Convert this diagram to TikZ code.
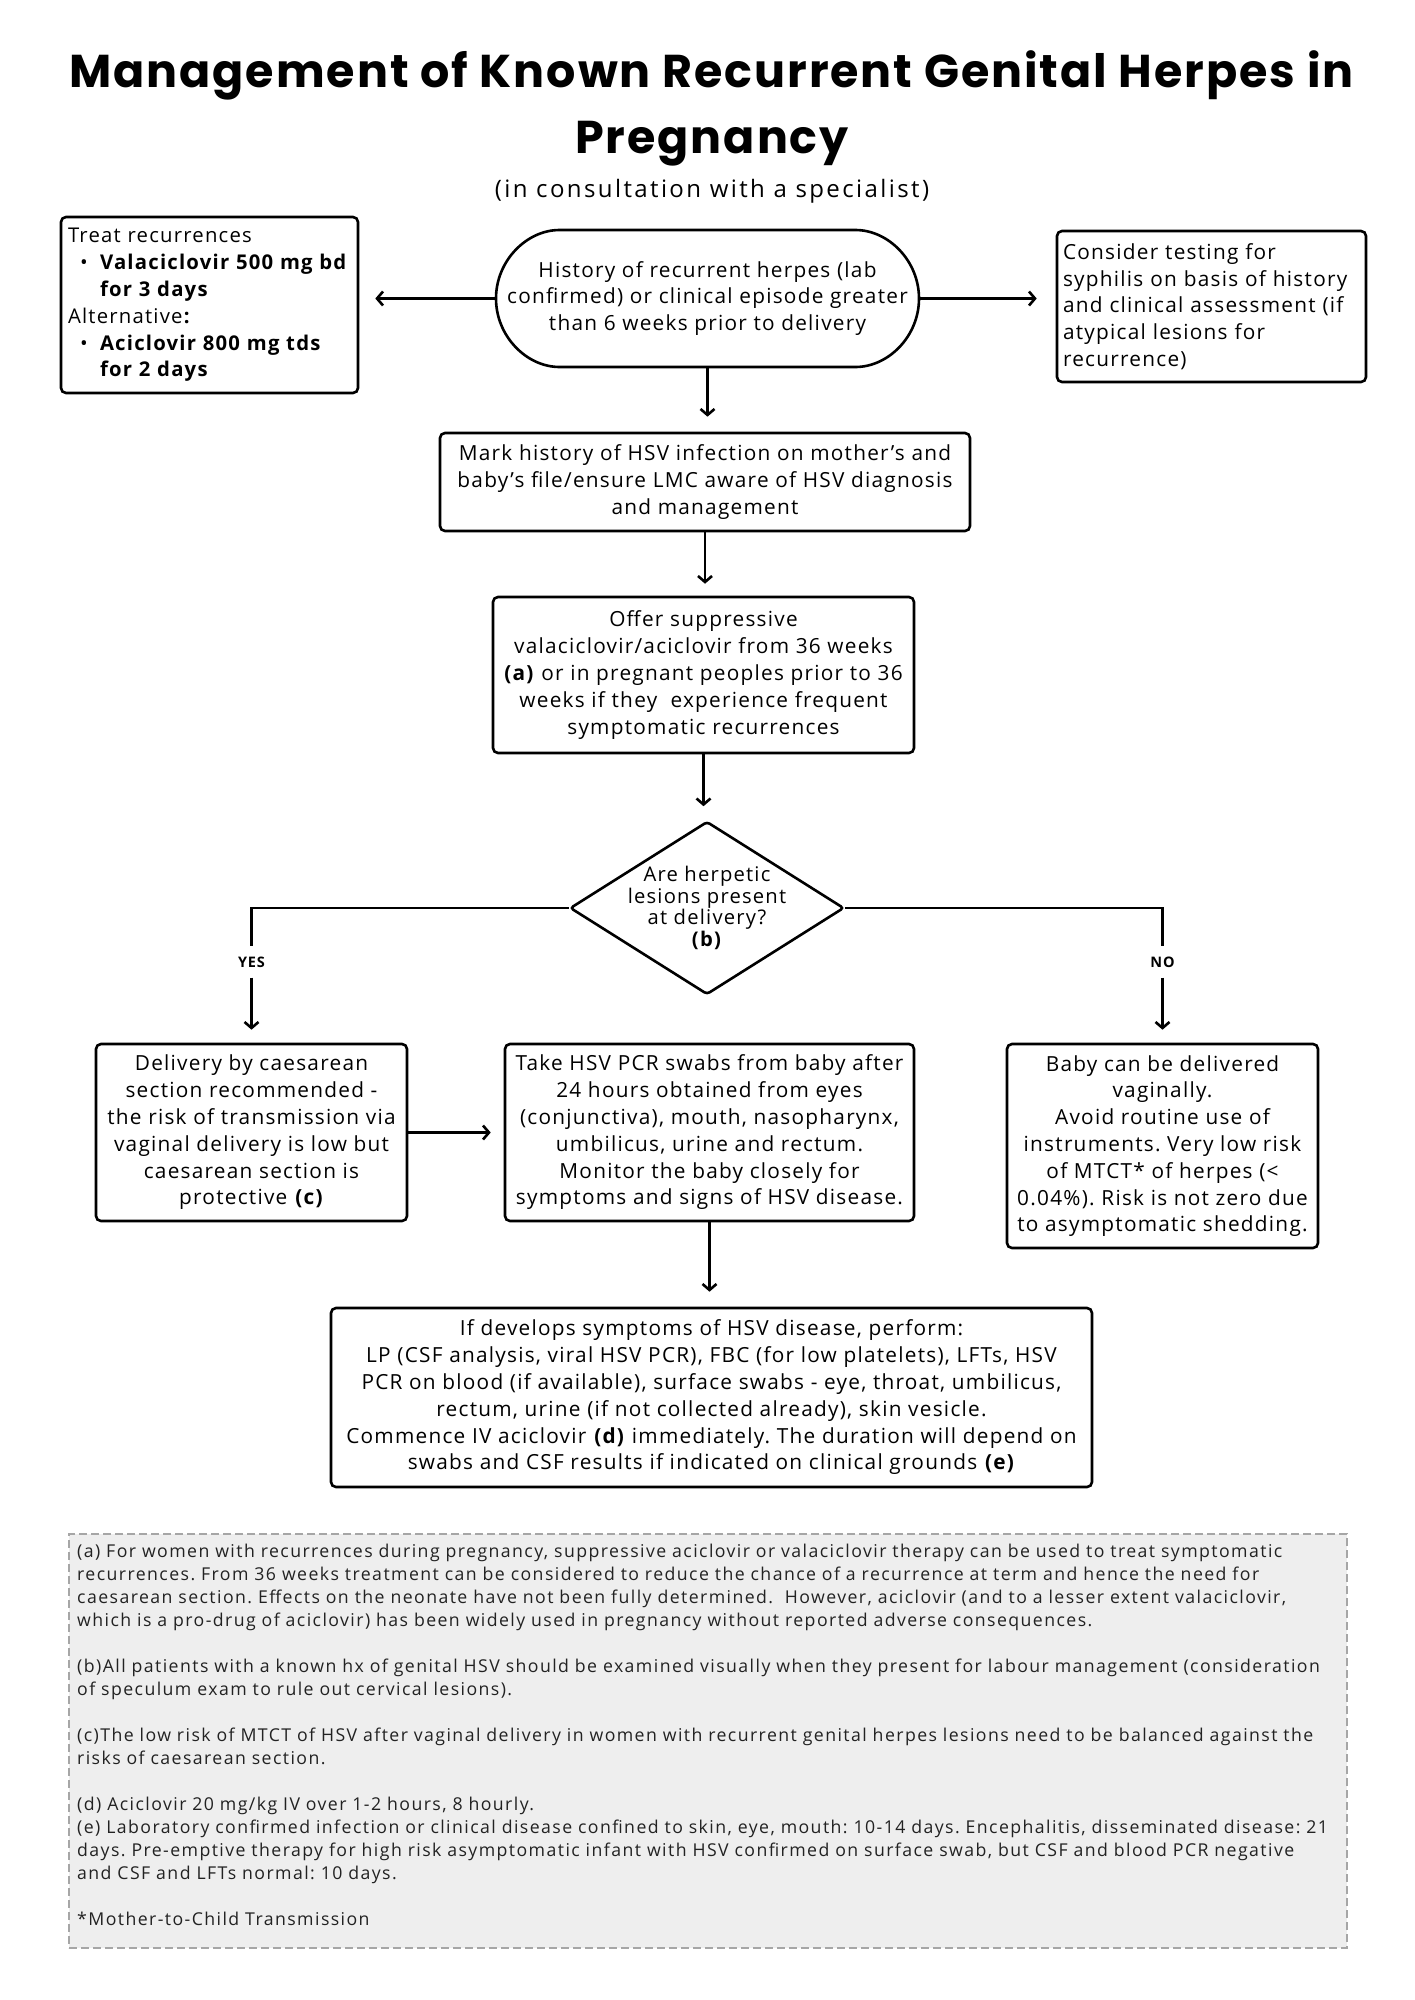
\documentclass[tikz,border=0pt]{standalone}
\usepackage{fontspec}
\setmainfont{Open Sans}[LetterSpace=6]
\newfontfamily\subfont{Open Sans}[LetterSpace=10]
\newfontfamily\notefamily{Open Sans}[LetterSpace=8]
\newfontfamily\titlefont{Poppins}[LetterSpace=4.2]
\usetikzlibrary{arrows.meta,shapes.geometric,shapes.misc}
\newcommand\bodyfont{\fontsize{20.8}{26.8}\selectfont}
\newcommand\treatfont{\fontsize{20.3}{26.8}\selectfont}
\newcommand\notefont{\notefamily\fontsize{17.7}{23}\selectfont}
\newcommand\diafont{\fontsize{20.2}{21.5}\selectfont}
\definecolor{notefill}{HTML}{EEEEEE}
\definecolor{notedraw}{HTML}{A6A6A6}
\definecolor{notetext}{HTML}{222222}
\frenchspacing
\begin{document}
\begin{tikzpicture}[x=1pt,y=-1pt,
  box/.style={draw=black,line width=2.6pt,rounded corners=5pt,inner sep=0pt,align=center,font=\bodyfont},
  arr/.style={line width=2.6pt,-{Straight Barb[length=6pt,width=14pt,line width=2.6pt]}},
  conn/.style={line width=2.6pt},
  lbl/.style={font=\bfseries\fontsize{14.5}{16}\selectfont,inner sep=0pt}
]
\fill[white] (0,0) rectangle (1414,2000);
\useasboundingbox (0,0) rectangle (1414,2000);

\node[font=\titlefont\bfseries\fontsize{46}{50}\selectfont,anchor=base,inner sep=0pt] (title1) at (711.5,87) {Management of Known Recurrent Genital Herpes in};
\node[font=\titlefont\bfseries\fontsize{46}{50}\selectfont,anchor=base,inner sep=0pt] (title2) at (712,153) {Pregnancy};
\node[font=\subfont\fontsize{24}{26}\selectfont,anchor=base,inner sep=0pt] (sub) at (712,197) {(in consultation with a specialist)};

\node[box,font=\treatfont,minimum width=297pt,minimum height=176pt,text width=283pt,align=left,inner xsep=7pt] (treat) at (209.5,305) {\mbox{Treat recurrences}\\
\mbox{\hspace*{12pt}\makebox[20pt][l]{•}\textbf{Valaciclovir 500 mg bd}}\\
\mbox{\hspace*{32pt}\textbf{for 3 days}}\\
\mbox{Alternative\textbf{:}}\\
\mbox{\hspace*{12pt}\makebox[20pt][l]{•}\textbf{Aciclovir 800 mg tds}}\\
\mbox{\hspace*{32pt}\textbf{for 2 days}}};

\node[box,rounded rectangle,minimum width=423pt,minimum height=137pt] (oval) at (707.5,298.5) {History of recurrent herpes (lab\\confirmed) or clinical episode greater\\than 6 weeks prior to delivery};

\node[box,minimum width=309pt,minimum height=151pt,text width=297pt,align=left,inner xsep=6pt] (cons) at (1211.5,306.5) {Consider testing for\\syphilis on basis of history\\and clinical assessment (if\\atypical lesions for\\recurrence)};

\node[box,minimum width=530pt,minimum height=98pt] (mark) at (705,482) {Mark history of HSV infection on mother’s and\\baby’s file/ensure LMC aware of HSV diagnosis\\and management};

\node[box,minimum width=421pt,minimum height=156pt] (offer) at (703.5,675) {Offer suppressive\\valaciclovir/aciclovir from 36 weeks\\\textbf{(a)} or in pregnant peoples prior to 36\\weeks if they\ \ experience frequent\\symptomatic recurrences};

\node[draw=black,line width=2.6pt,diamond,rounded corners=3pt,aspect=1.584,inner sep=-14pt,minimum width=274pt,minimum height=173pt,align=center,font=\diafont] (dia) at (707,908) {Are herpetic\\lesions present\\at delivery?\\\textbf{(b)}};

\node[lbl] (yes) at (251.5,962) {YES};
\node[lbl] (no) at (1162.5,962) {NO};

\node[box,minimum width=311pt,minimum height=177pt] (caes) at (251.5,1132.5) {Delivery by caesarean\\section recommended -\\the risk of transmission via\\vaginal delivery is low but\\caesarean section is\\protective \textbf{(c)}};

\node[box,minimum width=409pt,minimum height=177pt] (swab) at (709.5,1132.5) {Take HSV PCR swabs from baby after\\24 hours obtained from eyes\\(conjunctiva), mouth, nasopharynx,\\umbilicus, urine and rectum.\\Monitor the baby closely for\\symptoms and signs of HSV disease.};

\node[box,minimum width=311pt,minimum height=204pt] (baby) at (1162.5,1146) {Baby can be delivered\\vaginally.\\Avoid routine use of\\instruments. Very low risk\\of MTCT* of herpes (<\\0.04\%). Risk is not zero due\\to asymptomatic shedding.};

\node[box,minimum width=761pt,minimum height=179pt] (bot) at (711.5,1397.5) {If develops symptoms of HSV disease, perform:\\LP (CSF analysis, viral HSV PCR), FBC (for low platelets), LFTs, HSV\\PCR on blood (if available), surface swabs - eye, throat, umbilicus,\\rectum, urine (if not collected already), skin vesicle.\\Commence IV aciclovir \textbf{(d)} immediately. The duration will depend on\\swabs and CSF results if indicated on clinical grounds \textbf{(e)}};

\node[draw=notedraw,fill=notefill,line width=2.4pt,dash pattern=on 8pt off 4pt,anchor=north west,minimum width=1278pt,minimum height=414pt,inner sep=0pt] (notes) at (68,1533) {};
\node[anchor=north west,inner sep=0pt,text width=1260pt,align=left,font=\notefont,text=notetext] (notestext) at (77,1544) {(a) For women with recurrences during pregnancy, suppressive aciclovir or valaciclovir therapy can be used to treat symptomatic\\
recurrences. From 36 weeks treatment can be considered to reduce the chance of a recurrence at term and hence the need for\\
caesarean section. Effects on the neonate have not been fully determined.\ \ However, aciclovir (and to a lesser extent valaciclovir,\\
which is a pro-drug of aciclovir) has been widely used in pregnancy without reported adverse consequences.\\[23pt]
(b)All patients with a known hx of genital HSV should be examined visually when they present for labour management (consideration\\
of speculum exam to rule out cervical lesions).\\[23pt]
(c)The low risk of MTCT of HSV after vaginal delivery in women with recurrent genital herpes lesions need to be balanced against the\\
risks of caesarean section.\\[23pt]
(d) Aciclovir 20 mg/kg IV over 1-2 hours, 8 hourly.\\
(e) Laboratory confirmed infection or clinical disease confined to skin, eye, mouth: 10-14 days. Encephalitis, disseminated disease: 21\\
days. Pre-emptive therapy for high risk asymptomatic infant with HSV confirmed on surface swab, but CSF and blood PCR negative\\
and CSF and LFTs normal: 10 days.\\[23pt]
*Mother-to-Child Transmission};

\draw[arr,shorten >=16pt] (oval.west) -- (oval.west -| treat.east);
\draw[arr,shorten >=19pt] (oval.east) -- (oval.east -| cons.west);
\draw[arr,shorten >=15pt] (oval.south) -- (oval.south |- mark.north);
\draw[arr,shorten >=12pt] (mark.south) -- (mark.south |- offer.north);
\draw[arr,shorten >=14pt] (offer.south) -- (offer.south |- dia.north);
\draw[conn,shorten >=10pt] (dia.west) -| (yes.north);
\draw[conn,shorten >=10pt] (dia.east) -| (no.north);
\draw[arr,shorten <=10pt,shorten >=13pt] (yes.south) -- (caes.north);
\draw[arr,shorten <=10pt,shorten >=13pt] (no.south) -- (baby.north);
\draw[arr,shorten >=13pt] (caes.east) -- (caes.east -| swab.west);
\draw[arr,shorten >=15pt] (swab.south) -- (swab.south |- bot.north);
\end{tikzpicture}
\end{document}
